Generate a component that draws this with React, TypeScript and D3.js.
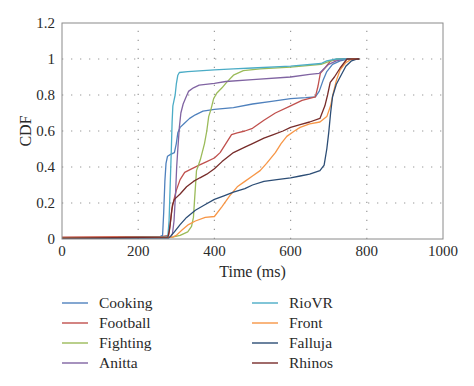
import React from "react";
import * as d3 from "d3";

const xTicks = [0, 200, 400, 600, 800, 1000];
const yTicks = [0, 0.2, 0.4, 0.6, 0.8, 1, 1.2];

const seriesNames = ["Cooking", "Football", "Fighting", "Anitta", "RioVR", "Front", "Falluja", "Rhinos"];
const seriesColors = ["#4f81bd", "#c0504d", "#9bbb59", "#8064a2", "#4bacc6", "#f79646", "#2c4d75", "#772c2a"];

const cooking: [number, number][] = [[0,0.005],[255,0.01],[264,0.02],[267,0.15],[270,0.32],[273,0.42],[277,0.46],[285,0.47],[295,0.48],[300,0.53],[304,0.59],[310,0.62],[320,0.64],[335,0.67],[350,0.69],[370,0.71],[400,0.72],[450,0.73],[500,0.75],[550,0.765],[600,0.78],[640,0.785],[665,0.79],[675,0.82],[685,0.88],[695,0.93],[710,0.97],[730,0.99],[750,1],[780,1]];
const football: [number, number][] = [[0,0.01],[265,0.015],[280,0.02],[284,0.08],[288,0.16],[294,0.22],[300,0.27],[310,0.33],[322,0.37],[340,0.39],[360,0.41],[380,0.43],[400,0.45],[415,0.48],[430,0.53],[445,0.58],[460,0.59],[480,0.6],[500,0.615],[530,0.66],[560,0.7],[600,0.74],[630,0.77],[665,0.79],[672,0.85],[678,0.92],[690,0.95],[705,0.99],[730,1],[780,1]];
const fighting: [number, number][] = [[0,0.005],[290,0.01],[310,0.02],[330,0.04],[340,0.07],[345,0.12],[348,0.22],[353,0.38],[363,0.44],[374,0.53],[380,0.6],[385,0.68],[391,0.72],[398,0.78],[406,0.81],[420,0.84],[432,0.87],[450,0.91],[476,0.935],[520,0.945],[600,0.955],[680,0.97],[700,0.985],[720,1],[780,1]];
const anitta: [number, number][] = [[0,0.005],[285,0.01],[290,0.03],[294,0.1],[298,0.25],[301,0.4],[304,0.5],[308,0.62],[312,0.7],[318,0.75],[324,0.78],[332,0.82],[345,0.84],[360,0.855],[400,0.865],[430,0.875],[500,0.885],[600,0.9],[650,0.915],[675,0.92],[685,0.94],[700,0.97],[720,0.99],[740,1],[780,1]];
const riovr: [number, number][] = [[0,0.005],[270,0.01],[278,0.02],[281,0.1],[284,0.3],[287,0.5],[289,0.65],[291,0.74],[294,0.77],[297,0.8],[300,0.86],[304,0.91],[308,0.925],[330,0.93],[400,0.94],[450,0.945],[500,0.95],[600,0.96],[680,0.975],[695,0.99],[720,1],[780,1]];
const front: [number, number][] = [[0,0.008],[290,0.01],[300,0.02],[315,0.05],[332,0.08],[350,0.1],[376,0.12],[400,0.125],[420,0.18],[440,0.24],[460,0.29],[480,0.32],[500,0.35],[520,0.38],[537,0.42],[560,0.48],[575,0.53],[590,0.57],[610,0.6],[625,0.62],[650,0.64],[677,0.65],[695,0.68],[705,0.74],[712,0.81],[720,0.88],[730,0.94],[745,0.98],[760,1],[780,1]];
const falluja: [number, number][] = [[0,0.003],[280,0.005],[287,0.02],[295,0.04],[310,0.08],[327,0.12],[350,0.16],[375,0.19],[400,0.22],[425,0.24],[450,0.26],[480,0.28],[500,0.3],[530,0.32],[564,0.33],[600,0.34],[625,0.35],[650,0.36],[677,0.38],[688,0.41],[695,0.5],[700,0.59],[705,0.7],[710,0.79],[720,0.86],[730,0.9],[745,0.96],[760,0.99],[775,1],[780,1]];
const rhinos: [number, number][] = [[0,0.005],[278,0.01],[282,0.05],[286,0.12],[290,0.19],[295,0.22],[310,0.25],[327,0.29],[345,0.32],[362,0.34],[380,0.36],[400,0.39],[420,0.43],[450,0.48],[480,0.51],[500,0.53],[530,0.56],[555,0.58],[580,0.6],[600,0.62],[625,0.635],[650,0.65],[677,0.67],[690,0.74],[697,0.8],[704,0.87],[715,0.9],[730,0.95],[748,1],[780,1]];

const seriesData = [cooking, football, fighting, anitta, riovr, front, falluja, rhinos];

const W = 474, H = 386;
const left = 62, right = 443, top = 23, bottom = 239;
const FONT = '"Liberation Serif", "DejaVu Serif", "Noto Serif", serif';

export default function App() {
  const x = d3.scaleLinear().domain([0, 1000]).range([left, right]);
  const y = d3.scaleLinear().domain([0, 1.2]).range([bottom, top]);
  const line = d3.line<[number, number]>().x(d => x(d[0])).y(d => y(d[1]));
  const ts = { fontFamily: FONT };
  return (
    <svg width={W} height={H} style={{ position: "absolute", left: 0, top: 0, background: "#fff" }}>
      <rect x={0} y={0} width={W} height={H} fill="#fff" />
      {xTicks.slice(1, -1).map(t => (
        <line key={"gx" + t} x1={x(t)} x2={x(t)} y1={bottom} y2={top} stroke="#9a9a9a" strokeWidth={1.2} strokeDasharray="1.3,7.7" />
      ))}
      {yTicks.slice(1, -1).map(t => (
        <line key={"gy" + t} x1={left} x2={right} y1={y(t)} y2={y(t)} stroke="#9a9a9a" strokeWidth={1.2} strokeDasharray="1.3,7.7" />
      ))}
      {seriesData.map((d, i) => (
        <path key={seriesNames[i]} d={line(d) || ""} fill="none" stroke={seriesColors[i]} strokeWidth={1.3} strokeLinejoin="round" />
      ))}
      <rect x={left} y={top} width={right - left} height={bottom - top} fill="none" stroke="#8a8a8a" strokeWidth={1} />
      {xTicks.map(t => (
        <text key={"tx" + t} style={ts} x={x(t)} y={256} textAnchor="middle" fontSize={15} fill="#2a2a2a">{t}</text>
      ))}
      {yTicks.map(t => (
        <text key={"ty" + t} style={ts} x={55} y={y(t) + 5} textAnchor="end" fontSize={15} fill="#2a2a2a">{String(t)}</text>
      ))}
      <text style={ts} x={(left + right) / 2} y={277} textAnchor="middle" fontSize={16} fill="#2a2a2a">Time (ms)</text>
      <text style={ts} transform={`translate(31,${(top + bottom) / 2}) rotate(-90)`} textAnchor="middle" fontSize={16} fill="#2a2a2a">CDF</text>
      {seriesNames.map((n, i) => {
        const col = Math.floor(i / 4);
        const row = i % 4;
        const lx = col === 0 ? 62 : 252;
        const ly = 303 + row * 20;
        return (
          <g key={"lg" + n}>
            <line x1={lx} x2={lx + 26} y1={ly} y2={ly} stroke={seriesColors[i]} strokeWidth={1.4} />
            <text style={ts} x={lx + 37} y={ly + 5} fontSize={15.5} fill="#2a2a2a">{n}</text>
          </g>
        );
      })}
    </svg>
  );
}
